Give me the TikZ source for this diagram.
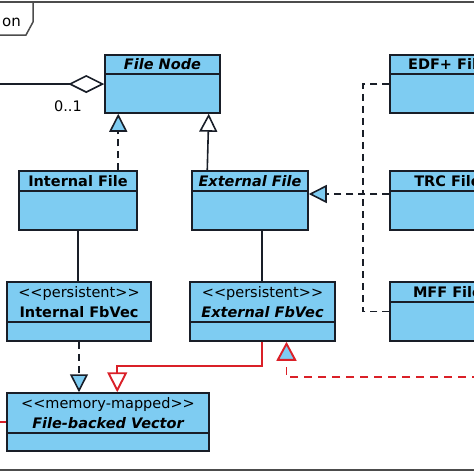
\documentclass[tikz,border=0pt]{standalone}
\usepackage{fontspec}
\setmainfont{DejaVu Sans}[ItalicFont={DejaVu Sans Oblique},BoldItalicFont={DejaVu Sans Bold Oblique}]
\usepackage{xcolor}
\usetikzlibrary{arrows.meta,calc}
\definecolor{ClassBlue}{RGB}{126,204,242}
\definecolor{UmlRed}{RGB}{218,32,40}
\definecolor{LineDark}{RGB}{25,30,40}
\newcommand{\umlfont}{\fontsize{14.5}{20}\selectfont}
\newcommand{\stereo}[1]{{\mdseries\upshape\mbox{<}\mbox{<}#1\mbox{>}\mbox{>}}}

\begin{document}
\begin{tikzpicture}[x=1pt,y=-1pt,
  cls/.style={draw=LineDark, fill=ClassBlue, line width=1.5pt, inner sep=0pt},
  ttl/.style={font=\umlfont\bfseries, align=center, text=black, inner sep=0pt},
  ttli/.style={font=\umlfont\bfseries\itshape, align=center, text=black, inner sep=0pt},
  assoc/.style={line width=1.6pt, LineDark},
  realize/.style={assoc, dash pattern=on 7pt off 5pt,
                  -{Triangle[length=18pt,width=18pt,fill=ClassBlue]}},
  gen/.style={assoc, -{Triangle[length=18pt,width=18pt,fill=white]}},
  depend/.style={assoc, dash pattern=on 7pt off 5pt},
  redgen/.style={line width=1.9pt, UmlRed,
                 -{Triangle[length=20pt,width=20pt,fill=white]}},
  redreal/.style={line width=1.9pt, UmlRed, dash pattern=on 8pt off 6pt,
                  -{Triangle[length=19pt,width=20pt,fill=ClassBlue]}},
  redline/.style={line width=1.9pt, UmlRed},
  frame/.style={line width=1.5pt, black!70},
]
  \useasboundingbox (0,0) rectangle (474,474);

  % Frame
  \draw[frame] (0,2) -- (474,2);
  \draw[frame] (0,470) -- (474,470);
  \draw[frame] (0,35) -- (26,35) -- (33,22) -- (33,2);
  \node[font=\fontsize{15}{18}\selectfont, anchor=base west, inner sep=0pt] (tabname) at (2,26) {on};

  % Classes
  \node[cls, minimum width=115, minimum height=58] (fnode) at (162.5,84) {};
  \node[cls, minimum width=118, minimum height=59] (ifile) at (78,200.5) {};
  \node[cls, minimum width=116, minimum height=59] (efile) at (250,200.5) {};
  \node[cls, minimum width=115, minimum height=58] (edf)   at (447.5,84) {};
  \node[cls, minimum width=115, minimum height=59] (trc)   at (447.5,200.5) {};
  \node[cls, minimum width=115, minimum height=59] (mff)   at (447.5,311.5) {};
  \node[cls, minimum width=144, minimum height=59] (ifbv)  at (79,311.5) {};
  \node[cls, minimum width=145, minimum height=59] (efbv)  at (262.5,311.5) {};
  \node[cls, minimum width=202, minimum height=58] (fbv)   at (108,422) {};

  % Header separators
  \foreach \cn/\hh in {fnode/20,ifile/21,efile/21,edf/20,trc/21,mff/21,ifbv/41,efbv/41,fbv/41}
    \draw[assoc] ($(\cn.north west)+(0,\hh)$) -- ($(\cn.north east)+(0,\hh)$);

  % Titles
  \node[ttli] at ($(fnode.north)+(0,10)$)   {File Node};
  \node[ttl]  at ($(ifile.north)+(0,10.5)$) {Internal File};
  \node[ttli] at ($(efile.north)+(0,10.5)$) {External File};
  \node[ttl]  at ($(edf.north)+(0,10)$)     {EDF+ File};
  \node[ttl]  at ($(trc.north)+(0,10.5)$)   {TRC File};
  \node[ttl]  at ($(mff.north)+(0,10.5)$)   {MFF File};
  \node[ttl]  at ($(ifbv.north)+(0,20.5)$)  {\stereo{persistent}\\Internal FbVec};
  \node[ttli] at ($(efbv.north)+(0,20.5)$)  {\stereo{persistent}\\External FbVec};
  \node[ttli] at ($(fbv.north)+(0,20.5)$)   {\stereo{memory-mapped}\\File-backed Vector};

  % Free ends
  \coordinate (aggend)  at (0,84);
  \coordinate (bus)     at (363,194);
  \coordinate (redin)   at (480,377);
  \coordinate (redleft) at (0,422);

  % Connectors
  \draw[assoc, {Diamond[length=36pt,width=18pt,fill=white]}-] (fnode.west) -- (aggend);
  \node[font=\umlfont, inner sep=0pt] (mult) at (68,106) {0..1};

  \draw[realize] ([xshift=100pt]ifile.north west) -- ([xshift=14pt]fnode.south west);
  \draw[gen] ([xshift=16pt]efile.north west) -- ([xshift=-12pt]fnode.south east);

  \draw[realize] ([yshift=6.5pt]trc.west) -- ([yshift=6.5pt]efile.east);
  \draw[depend] (edf.west) -| (bus);
  \draw[depend] (mff.west) -| (bus);

  \draw[assoc] (ifile.south) -- (ifile.south |- ifbv.north);
  \draw[assoc] ([xshift=-0.5pt]efbv.north |- efile.south) -- ([xshift=-0.5pt]efbv.north);

  \draw[realize] (ifbv.south) -- (ifbv.south |- fbv.north);
  \draw[redgen] ([xshift=-0.5pt]efbv.south) -- ++(0,24) -| ([xshift=111pt]fbv.north west);
  \draw[redreal] (redin) -| ([xshift=24pt]efbv.south);
  \draw[redline] (redleft) -- (fbv.west);

\end{tikzpicture}
\end{document}
